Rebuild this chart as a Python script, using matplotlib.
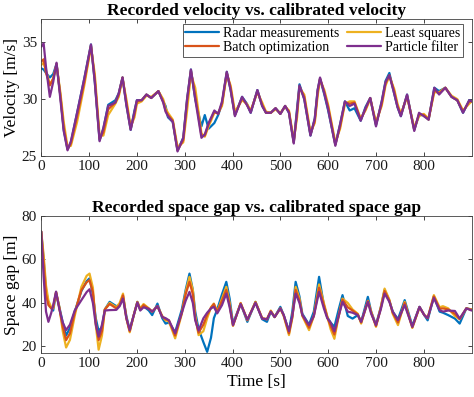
import matplotlib
matplotlib.use("Agg")
import matplotlib.pyplot as plt

plt.rcParams['font.family'] = ['Liberation Serif', 'DejaVu Serif']

# ---------------- velocity data ----------------
tv = [0, 5, 10, 18, 25, 32, 40, 47, 55, 62,
      75, 90, 104, 112, 122, 130, 140, 155, 162, 170,
      178, 187, 195, 200, 210, 220, 230, 245, 255, 260,
      265, 275, 285, 297, 305, 313, 322, 335, 342, 350,
      362, 370, 378, 388, 396, 405, 420, 430, 438, 452,
      462, 470, 480, 490, 500, 510, 518, 528, 535, 540,
      550, 563, 572, 578, 583, 592, 600, 615, 625, 635,
      645, 655, 668, 678, 688, 700, 712, 720, 728, 738,
      745, 752, 765, 780, 790, 800, 810, 822, 832, 845,
      858, 870, 882, 895, 900]

radar_v = [32.7, 32.6, 32.3, 31.9, 32.2, 33.1, 30.3, 27.3, 25.6, 26.2,
           28.8, 31.8, 34.8, 31.5, 26.4, 27.4, 29.5, 29.9, 30.5, 31.9,
           29.5, 27.3, 29.0, 29.9, 29.9, 30.4, 30.1, 30.7, 29.8, 29.4,
           28.4, 28.0, 25.5, 26.6, 30.0, 32.6, 30.0, 27.6, 28.6, 27.4,
           27.9, 28.6, 29.6, 32.4, 30.8, 28.6, 30.2, 29.6, 28.8, 30.8,
           29.4, 28.8, 28.8, 29.2, 28.7, 29.4, 28.8, 26.2, 29.2, 31.3,
           30.0, 26.8, 28.3, 30.8, 31.8, 30.4, 29.0, 26.0, 27.8, 29.8,
           29.0, 29.2, 28.1, 29.3, 30.1, 27.7, 29.8, 31.6, 32.3, 30.5,
           29.3, 28.5, 30.4, 27.3, 28.6, 28.6, 28.2, 31.0, 30.7, 31.0,
           30.2, 29.9, 28.8, 29.9, 29.8]

ls_v = [33.0, 33.2, 32.5, 31.3, 31.8, 33.0, 30.6, 28.0, 25.8, 25.9,
        28.0, 31.2, 34.6, 32.2, 26.8, 26.8, 28.6, 29.6, 30.2, 31.8,
        30.0, 27.6, 28.4, 29.6, 29.8, 30.3, 30.2, 30.7, 30.0, 29.2,
        28.8, 28.2, 25.8, 26.2, 29.0, 32.2, 31.0, 27.0, 26.7, 27.6,
        28.8, 28.8, 29.4, 32.2, 31.2, 28.9, 29.9, 29.6, 29.0, 30.6,
        29.7, 28.9, 28.8, 29.1, 28.8, 29.3, 29.0, 26.4, 28.4, 31.0,
        30.4, 27.1, 27.9, 30.3, 31.7, 30.8, 29.5, 26.2, 27.4, 29.6,
        29.8, 29.8, 28.3, 29.0, 30.0, 28.0, 29.4, 31.2, 32.0, 30.9,
        29.6, 28.7, 30.2, 27.5, 28.5, 28.7, 28.3, 30.6, 30.6, 31.0,
        30.3, 30.0, 29.0, 29.6, 29.8]

bo_v = [33.3, 33.5, 32.3, 31.2, 31.8, 33.1, 30.3, 27.5, 25.6, 26.1,
        28.5, 31.5, 34.7, 31.8, 26.5, 27.1, 29.1, 29.7, 30.4, 31.9,
        29.7, 27.4, 28.7, 29.8, 29.9, 30.4, 30.1, 30.7, 29.8, 29.0,
        28.6, 28.1, 25.5, 26.4, 29.8, 32.5, 30.3, 26.8, 26.8, 27.8,
        28.9, 28.7, 29.6, 32.3, 31.0, 28.6, 30.1, 29.5, 28.9, 30.7,
        29.5, 28.8, 28.8, 29.2, 28.7, 29.4, 28.9, 26.2, 28.8, 31.1,
        30.2, 26.9, 28.1, 30.6, 31.8, 30.6, 29.3, 26.0, 27.6, 29.7,
        29.6, 29.7, 28.2, 29.1, 30.1, 27.8, 29.6, 31.4, 32.1, 30.7,
        29.4, 28.6, 30.3, 27.3, 28.7, 28.6, 28.2, 30.8, 30.5, 31.0,
        30.2, 29.9, 28.9, 29.8, 29.8]

pf_v = [34.6, 34.9, 32.8, 30.2, 31.5, 33.2, 30.0, 27.2, 25.5, 26.3,
        28.8, 31.8, 34.8, 31.5, 26.3, 27.5, 29.4, 29.7, 30.5, 31.9,
        29.5, 27.3, 28.9, 29.9, 29.9, 30.4, 30.1, 30.7, 29.7, 28.9,
        28.5, 28.0, 25.4, 26.6, 30.0, 32.6, 30.0, 26.6, 26.9, 27.9,
        29.0, 28.7, 29.8, 32.4, 30.8, 28.5, 30.2, 29.5, 28.8, 30.8,
        29.4, 28.8, 28.8, 29.2, 28.7, 29.4, 28.8, 26.1, 29.0, 31.2,
        30.0, 26.8, 28.3, 30.8, 31.9, 30.5, 29.1, 25.9, 27.8, 29.8,
        29.4, 29.6, 28.1, 29.2, 30.1, 27.6, 29.8, 31.5, 32.1, 30.5,
        29.3, 28.5, 30.4, 27.2, 28.8, 28.5, 28.2, 31.0, 30.4, 31.0,
        30.2, 29.9, 28.8, 29.9, 29.8]

# ---------------- space gap data ----------------
tg = [0, 5, 10, 15, 21, 25, 31, 38, 45, 52,
      60, 70, 84, 95, 101, 108, 114, 120, 127, 133,
      143, 157, 164, 171, 178, 185, 193, 201, 207, 214,
      225, 232, 243, 253, 260, 267, 280, 294, 302, 310,
      317, 322, 329, 339, 347, 355, 361, 368, 378, 387,
      394, 401, 417, 431, 448, 462, 472, 480, 488, 500,
      507, 518, 525, 532, 540, 546, 560, 570, 581, 591,
      598, 605, 613, 622, 630, 641, 651, 662, 669, 683,
      690, 700, 710, 718, 728, 735, 746, 760, 776, 791,
      801, 808, 821, 833, 840, 851, 865, 875, 889, 900]

radar_g = [72.8, 60, 46, 40, 37.5, 36.5, 44.5, 38, 31, 25,
           28.5, 36, 45.5, 50, 51.3, 44, 33, 27, 29, 37,
           40.5, 38.5, 39, 43, 34, 27.5, 34, 40.5, 37, 38.5,
           36.5, 34.4, 39.7, 33, 30.5, 31, 26.5, 37, 46, 53.5,
           46, 36, 28, 22, 17.5, 24, 33, 37, 44, 49.7,
           42, 30.5, 39.7, 31.3, 40.5, 32.5, 31.3, 36, 33.5, 38.2,
           34.4, 27, 36, 49.7, 43, 35, 30, 36, 52, 39,
           33.5, 31, 29, 37, 43.6, 34, 32.8, 34.4, 31.3, 42.8,
           36, 30, 38, 46, 41, 36, 32.5, 41.3, 29.5, 38.2,
           34.4, 32, 43, 36, 35.5, 34.4, 32.8, 30.5, 37.5, 37]

ls_g = [72.8, 62, 48, 41, 38, 37.5, 45, 38, 27, 19.5,
        23, 34, 47.4, 52.5, 53.5, 47, 30, 18.5, 25, 37,
        40, 38, 40, 44.3, 33, 26.5, 34, 40.5, 37.5, 39.5,
        37.5, 36, 38.5, 34, 32, 31.5, 23.7, 35, 45, 52,
        46, 34, 25.2, 27, 33, 38, 39.7, 36, 42, 47.4,
        40, 29.5, 40, 32, 40.5, 33, 32.5, 36.5, 33.5, 37.5,
        34, 25.2, 33, 47.4, 42, 34, 27.5, 34, 48.5, 40,
        34, 28, 23.5, 34, 42, 40, 37, 35, 30.5, 41,
        36, 29, 38, 46.6, 41.5, 35, 29.8, 40.5, 28.5, 38,
        34.5, 33, 43.6, 38, 38.5, 37.5, 34, 32.5, 37.5, 37]

bo_g = [72.8, 58, 44, 39, 37.5, 38, 45, 37.5, 29, 22.9,
        26, 35.5, 45.9, 49.5, 50.5, 45, 31, 22.9, 27, 37,
        39.5, 37.5, 39, 43.5, 33, 27, 34, 40.3, 37, 39,
        37.3, 36, 38.5, 33.8, 32.5, 32, 25, 35.5, 44, 49.7,
        44, 33, 26.3, 30, 34.5, 37.8, 39.5, 35.8, 41, 46,
        39, 29.6, 39.8, 32.2, 40.3, 32.9, 32.5, 36.2, 33.5, 37.5,
        34.3, 26, 33.5, 46, 41, 34.3, 28.6, 34, 47, 39,
        33.5, 29.5, 25.5, 34, 41.5, 38, 36.5, 34.7, 31, 40.8,
        35.5, 29.4, 37.5, 45.5, 41, 35.5, 31, 40, 28.8, 38.1,
        34.4, 33, 43, 37.3, 37.5, 37, 35, 32.6, 37.5, 36.8]

pf_g = [72.8, 52, 36, 31.3, 35.5, 39, 45.2, 37, 31, 27.5,
        30, 36.5, 41.3, 45, 46.3, 40, 30, 24.5, 30, 36.5,
        36.7, 36.8, 38.5, 42, 33, 27.5, 34, 40.2, 36.5, 38,
        37.3, 36, 38.5, 33.5, 33, 32, 26, 35.5, 41, 45.1,
        40, 32, 27.3, 32.9, 35.5, 37.5, 38.2, 35.2, 39, 44.3,
        38, 29.8, 39.5, 32.3, 40, 32.8, 32.5, 36, 33.5, 37.5,
        34.5, 27, 34, 44.3, 40, 34.5, 29.8, 34, 45.1, 37.5,
        33, 31, 27, 34, 40.5, 36, 35.5, 34.4, 31.3, 40.5,
        35, 29.8, 37, 44.3, 40.5, 36, 32.1, 39, 29, 38.2,
        34.4, 33, 42.3, 36.7, 36, 36.5, 36.3, 32.8, 37.5, 36.5]

labels = ['Radar measurements', 'Least squares', 'Batch optimization', 'Particle filter']
colors = ['#0072BD', '#EDB120', '#D95319', '#7E2F8E']
titles = ['Recorded velocity vs. calibrated velocity',
          'Recorded space gap vs. calibrated space gap']
xticks = [0, 100, 200, 300, 400, 500, 600, 700, 800]

fig = plt.figure(figsize=(4.74, 3.97), dpi=100)
ax1 = fig.add_axes([0.087, 0.607, 0.908, 0.344])
ax2 = fig.add_axes([0.087, 0.111, 0.908, 0.345])

lw = 1.6
h = {}
for ax, t, series in [(ax1, tv, [radar_v, ls_v, bo_v, pf_v]),
                      (ax2, tg, [radar_g, ls_g, bo_g, pf_g])]:
    for lab, col, y in zip(labels, colors, series):
        ln, = ax.plot(t, y, color=col, lw=lw, label=lab,
                      solid_joinstyle='round', solid_capstyle='round')
        h[lab] = ln
    ax.set_xlim(0, 900)
    ax.set_xticks(xticks)
    ax.tick_params(direction='in', top=True, right=True, labelsize=11,
                   length=3, width=0.6, colors='#262626', labelcolor='#1a1a1a', pad=3)
    for s in ax.spines.values():
        s.set_linewidth(0.6)
        s.set_color('#404040')

ax1.set_ylim(25, 37)
ax1.set_yticks([25, 30, 35])
ax2.set_ylim(17, 80)
ax2.set_yticks([20, 40, 60, 80])

ax1.set_title(titles[0], fontsize=12.5, fontweight='bold', pad=3)
ax2.set_title(titles[1], fontsize=12.5, fontweight='bold', pad=3)
ax1.set_ylabel('Velocity [m/s]', fontsize=12.5, labelpad=1)
ax2.set_ylabel('Space gap [m]', fontsize=12.5, labelpad=1)
ax2.set_xlabel('Time [s]', fontsize=12.5, labelpad=3)

order = ['Radar measurements', 'Batch optimization', 'Least squares', 'Particle filter']
leg = ax1.legend([h[k] for k in order], order, ncol=2, loc='upper right',
                 bbox_to_anchor=(0.980, 0.966), fontsize=10, frameon=True,
                 fancybox=False, edgecolor='#404040', framealpha=1,
                 handlelength=2.4, handletextpad=0.3, columnspacing=0.6,
                 borderpad=0.2, labelspacing=0.1, borderaxespad=0)
leg.get_frame().set_linewidth(0.6)

fig.savefig('out.png', dpi=100)
